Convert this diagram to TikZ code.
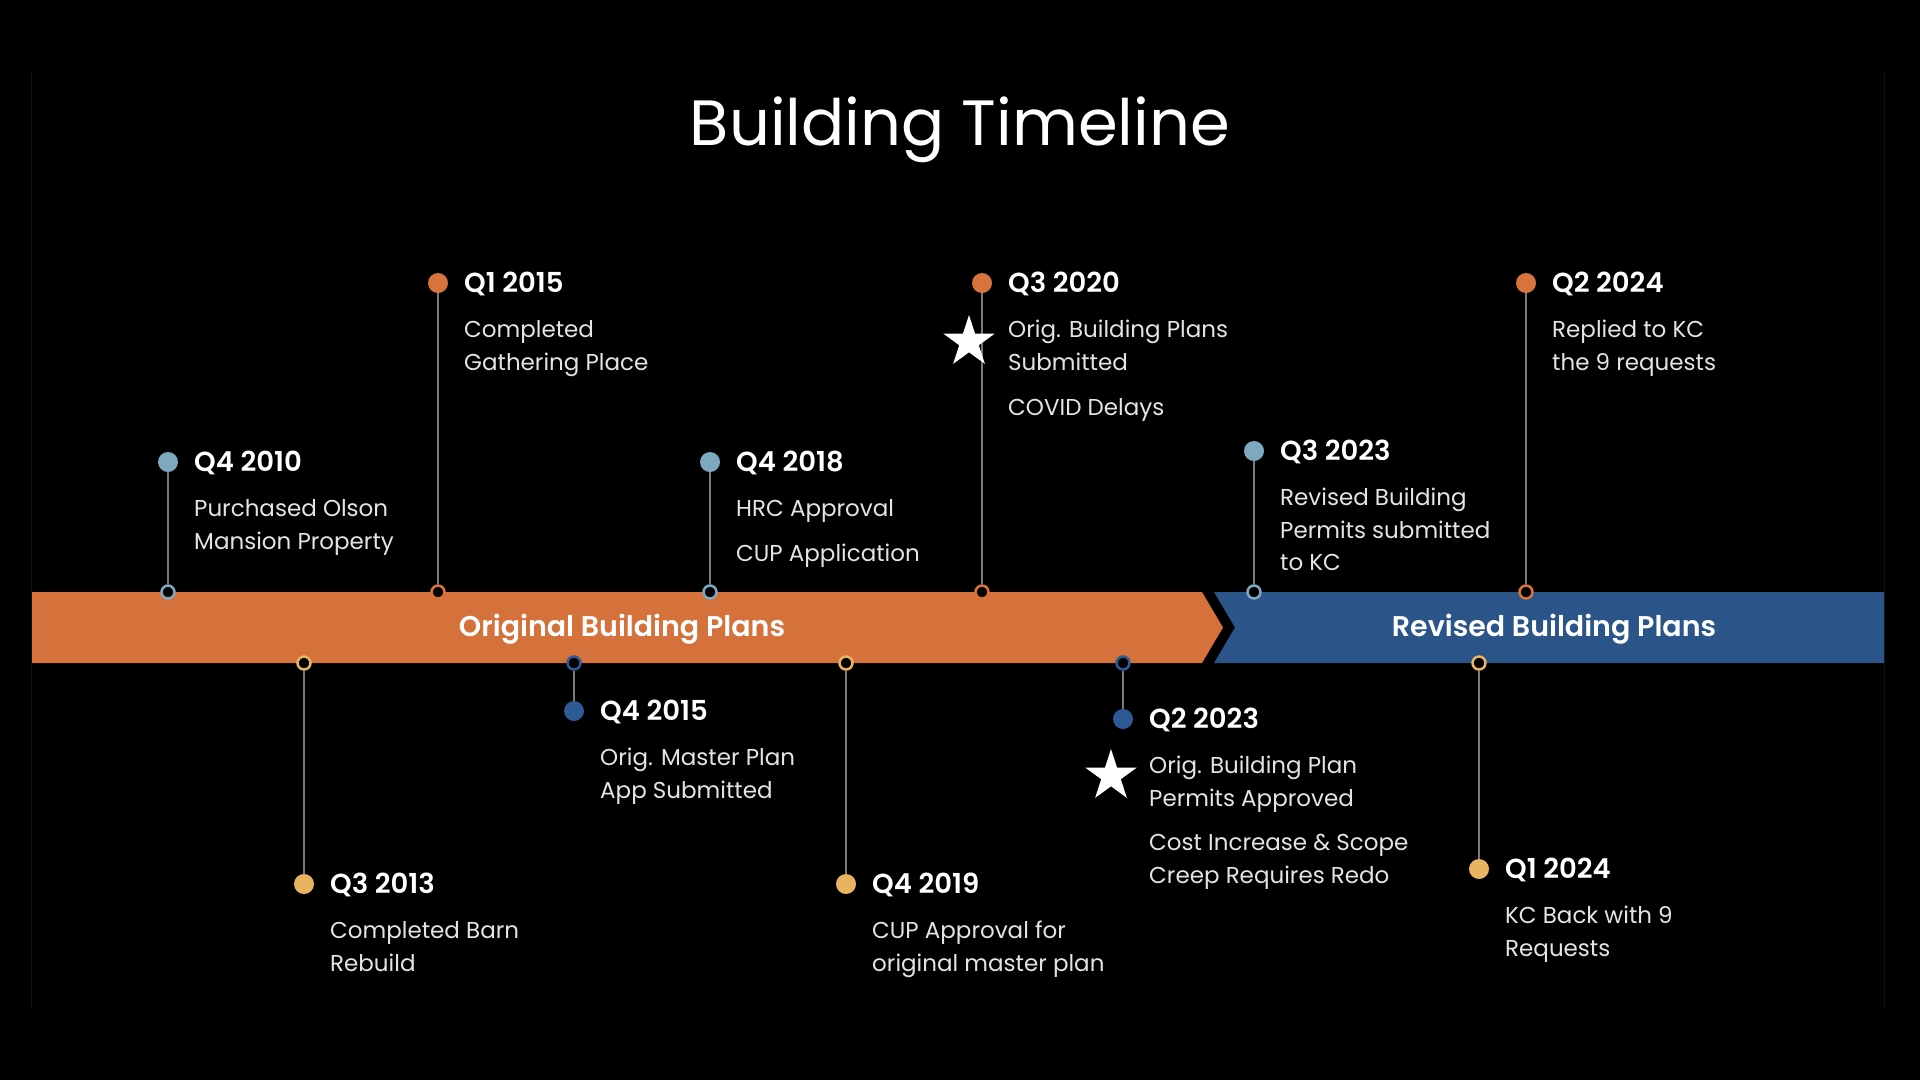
\documentclass[tikz,border=0pt]{standalone}
\usepackage{fontspec}
\setmainfont{Poppins}[BoldFont={* SemiBold}]
\usetikzlibrary{shapes.geometric,calc}
\definecolor{barorange}{HTML}{D5713A}
\definecolor{barblue}{HTML}{2B5488}
\definecolor{lblue}{HTML}{7DA8BD}
\definecolor{dblue}{HTML}{2D5A94}
\definecolor{gold}{HTML}{E9B462}
\definecolor{dotorange}{HTML}{D8733B}
\definecolor{stemgray}{HTML}{7A7A7A}
\definecolor{desctext}{HTML}{E4E4E4}
\newcommand{\eventtext}[1]{\begin{tabular}[t]{@{}l@{}}#1\end{tabular}}
\tikzset{
  tlstem/.style={draw=stemgray, line width=2.5pt},
  tldot/.style={circle, fill=#1, minimum size=20pt, inner sep=0pt},
  tlring/.style={circle, draw=#1, line width=2.5pt, fill=black, minimum size=13pt, inner sep=0pt},
  tldate/.style={anchor=base west, text=white, inner sep=0pt, font=\fontsize{27.5}{30}\selectfont\bfseries},
  tldesc/.style={anchor=base west, text=desctext, inner sep=0pt, font=\fontsize{23}{32.5}\selectfont},
  barlabel/.style={anchor=base, text=white, inner sep=0pt, font=\fontsize{28.5}{30}\selectfont\bfseries},
  starmark/.style={star, star points=5, star point ratio=2.618, fill=white, minimum size=54pt, inner sep=0pt}
}
\begin{document}
\begin{tikzpicture}[x=1pt,y=-1pt]
  \fill[black] (0,0) rectangle (1920,1080);
  \draw[black!94!white, line width=1pt] (31,72) -- (31,1008) (1884,72) -- (1884,1008);
  \node[anchor=base, text=white, inner sep=0pt, font=\fontsize{64}{76}\selectfont] (title) at (960,145) {Building Timeline};

  % bars
  \fill[barorange] (32,592) -- (1202,592) -- (1223,627.5) -- (1202,663) -- (32,663) -- cycle;
  \fill[barblue] (1214,592) -- (1884,592) -- (1884,663) -- (1214,663) -- (1235,627.5) -- cycle;
  \node[barlabel] (orig) at (622,636) {Original Building Plans};
  \node[barlabel] (rev) at (1554,636) {Revised Building Plans};

  % top row
  \node[tlring=lblue] (r1) at (168,592) {};
  \node[tldot=lblue] (d1) at (168,462) {};
  \node[tlring=dotorange] (r2) at (438,592) {};
  \node[tldot=dotorange] (d2) at (438,283) {};
  \node[tlring=lblue] (r3) at (710,592) {};
  \node[tldot=lblue] (d3) at (710,462) {};
  \node[tlring=dotorange] (r4) at (982,592) {};
  \node[tldot=dotorange] (d4) at (982,283) {};
  \node[tlring=lblue] (r5) at (1254,592) {};
  \node[tldot=lblue] (d5) at (1254,451) {};
  \node[tlring=dotorange] (r6) at (1526,592) {};
  \node[tldot=dotorange] (d6) at (1526,283) {};

  % bottom row
  \node[tlring=gold] (r7) at (304,663) {};
  \node[tldot=gold] (d7) at (304,884) {};
  \node[tlring=dblue] (r8) at (574,663) {};
  \node[tldot=dblue] (d8) at (574,711) {};
  \node[tlring=gold] (r9) at (846,663) {};
  \node[tldot=gold] (d9) at (846,884) {};
  \node[tlring=dblue] (r10) at (1123,663) {};
  \node[tldot=dblue] (d10) at (1123,719) {};
  \node[tlring=gold] (r11) at (1479,663) {};
  \node[tldot=gold] (d11) at (1479,869) {};

  \foreach \i in {1,...,11}
    \draw[tlstem] (r\i) -- (d\i);

  % labels
  \node[tldate] at ($(d1)+(26,9.5)$) {Q4 2010};
  \node[tldesc] at ($(d1)+(26,54.5)$) {\eventtext{Purchased Olson\\Mansion Property}};
  \node[tldate] at ($(d2)+(26,9.5)$) {Q1 2015};
  \node[tldesc] at ($(d2)+(26,54.5)$) {\eventtext{Completed\\Gathering Place}};
  \node[tldate] at ($(d3)+(26,9.5)$) {Q4 2018};
  \node[tldesc] at ($(d3)+(26,54.5)$) {\eventtext{HRC Approval\\[12.5pt] CUP Application}};
  \node[tldate] at ($(d4)+(26,9.5)$) {Q3 2020};
  \node[tldesc] at ($(d4)+(26,54.5)$) {\eventtext{Orig. Building Plans\\Submitted\\[13pt] COVID Delays}};
  \node[tldate] at ($(d5)+(26,9.5)$) {Q3 2023};
  \node[tldesc] at ($(d5)+(26,54.5)$) {\eventtext{Revised Building\\Permits submitted\\to KC}};
  \node[tldate] at ($(d6)+(26,9.5)$) {Q2 2024};
  \node[tldesc] at ($(d6)+(26,54.5)$) {\eventtext{Replied to KC\\the 9 requests}};
  \node[tldate] at ($(d7)+(26,9.5)$) {Q3 2013};
  \node[tldesc] at ($(d7)+(26,54.5)$) {\eventtext{Completed Barn\\Rebuild}};
  \node[tldate] at ($(d8)+(26,9.5)$) {Q4 2015};
  \node[tldesc] at ($(d8)+(26,54.5)$) {\eventtext{Orig. Master Plan\\App Submitted}};
  \node[tldate] at ($(d9)+(26,9.5)$) {Q4 2019};
  \node[tldesc] at ($(d9)+(26,54.5)$) {\eventtext{CUP Approval for\\original master plan}};
  \node[tldate] at ($(d10)+(26,9.5)$) {Q2 2023};
  \node[tldesc] at ($(d10)+(26,54.5)$) {\eventtext{Orig. Building Plan\\Permits Approved\\[12pt] Cost Increase \& Scope\\Creep Requires Redo}};
  \node[tldate] at ($(d11)+(26,9.5)$) {Q1 2024};
  \node[tldesc] at ($(d11)+(26,54.5)$) {\eventtext{KC Back with 9\\Requests}};

  % stars
  \node[starmark] (s1) at (969,342) {};
  \node[starmark] (s2) at (1111,776) {};
\end{tikzpicture}
\end{document}
